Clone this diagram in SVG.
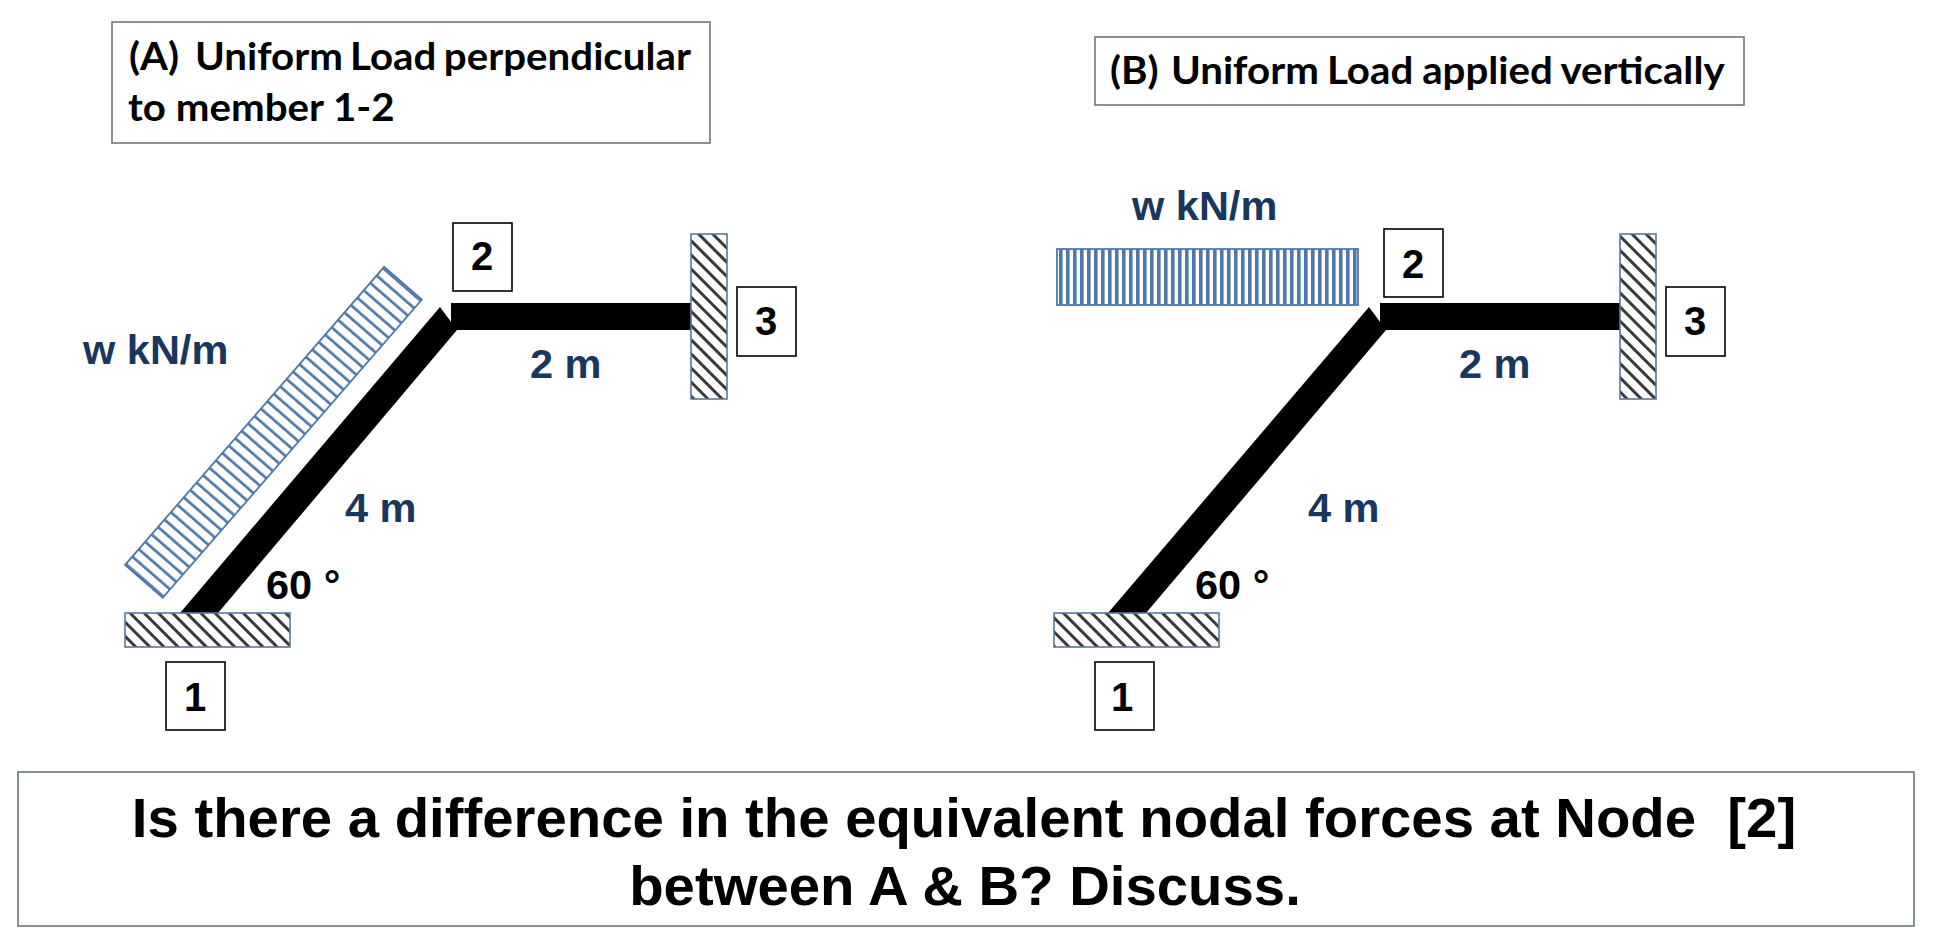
<svg xmlns="http://www.w3.org/2000/svg" width="1934" height="946" viewBox="0 0 1934 946">
<style>
.box{fill:#fff;stroke:#000;stroke-width:1.6}
.cap{fill:#fff;stroke:#6b7580;stroke-width:1.6}
.num{font:bold 40px "Liberation Sans",Arial,sans-serif;fill:#000;text-anchor:middle}
.lbl{font:bold 41.5px "Liberation Sans",Arial,sans-serif;fill:#17375e}
.ang{font:bold 41.5px "Liberation Sans",Arial,sans-serif;fill:#000}
.cal{font:bold 38px Lato,"Liberation Sans",sans-serif;fill:#000}
.big{font:bold 56.3px "Liberation Sans",Arial,sans-serif;fill:#000;text-anchor:middle;white-space:pre}
.wall{fill:url(#wallHatch);stroke:#5b7a99;stroke-width:1.6}
.load{stroke:#4f79a8;stroke-width:1.8}
.member{fill:#000}
</style>
<defs>
<pattern id="wallHatch" width="10" height="10" patternUnits="userSpaceOnUse" patternTransform="rotate(45)">
<rect width="10" height="10" fill="#fff"/>
<rect width="10" height="3" fill="#3a3a3a"/>
</pattern>
<pattern id="loadV" width="7" height="10" patternUnits="userSpaceOnUse" patternTransform="translate(1059 0)">
<rect width="7" height="10" fill="#fff"/>
<rect width="3.6" height="10" fill="#4f79a8"/>
</pattern>
<pattern id="loadA" width="9.8" height="10" patternUnits="userSpaceOnUse">
<rect width="9.8" height="10" fill="#fff"/>
<rect width="2.7" height="10" fill="#4f79a8"/>
</pattern>
</defs>
<rect width="1934" height="946" fill="#fff"/>

<g id="title-a">
<rect class="cap" x="112" y="22" width="598" height="121"/>
<text class="cal" transform="translate(129 70) scale(1.06 1)"><tspan x="0">(A)</tspan><tspan x="62.3">Uniform</tspan><tspan x="208.5">Load</tspan><tspan x="297">perpendicular</tspan></text>
<text class="cal" transform="translate(128 121) scale(1.06 1)">to member 1-2</text>
</g>
<g id="title-b">
<rect class="cap" x="1095" y="37" width="649" height="68"/>
<text class="cal" transform="translate(1110 84) scale(1.06 1)"><tspan x="0">(B)</tspan><tspan x="57.5">Uniform</tspan><tspan x="204.7">Load</tspan><tspan x="294.5">applied</tspan><tspan x="425">vertically</tspan></text>
</g>

<g id="connectors">
<path id="member-a-12" class="member" d="M180 613L440 307L457 330L218 613Z"/>
<rect id="member-a-23" class="member" x="451" y="303" width="241" height="27"/>
<path id="member-b-12" class="member" d="M1108 613L1369 307L1386 330L1146 613Z"/>
<rect id="member-b-23" class="member" x="1380" y="303" width="241" height="27"/>
</g>

<g id="load-a">
<rect class="load" fill="url(#loadA)" transform="translate(125 565) rotate(-49)" x="0" y="0" width="395" height="50"/>
</g>
<g id="load-b">
<rect class="load" fill="url(#loadV)" x="1057" y="249" width="301" height="56"/>
</g>
<g id="wall-a-1"><rect class="wall" x="125" y="613" width="165" height="34"/></g>
<g id="wall-a-3"><rect class="wall" x="691" y="234" width="36" height="165"/></g>
<g id="wall-b-1"><rect class="wall" x="1054" y="613" width="165" height="34"/></g>
<g id="wall-b-3"><rect class="wall" x="1620" y="234" width="36" height="165"/></g>

<g id="node-a-1"><rect class="box" x="166" y="662" width="59" height="68"/><text class="num" x="195" y="711">1</text></g>
<g id="node-a-2"><rect class="box" x="453" y="223" width="59" height="68"/><text class="num" x="482" y="270">2</text></g>
<g id="node-a-3"><rect class="box" x="737" y="287" width="59" height="69"/><text class="num" x="766" y="335">3</text></g>
<g id="node-b-1"><rect class="box" x="1095" y="662" width="59" height="68"/><text class="num" x="1122" y="711">1</text></g>
<g id="node-b-2"><rect class="box" x="1384" y="229" width="59" height="68"/><text class="num" x="1413" y="278">2</text></g>
<g id="node-b-3"><rect class="box" x="1666" y="287" width="59" height="69"/><text class="num" x="1695" y="335">3</text></g>

<text class="lbl" x="83" y="364">w kN/m</text>
<text class="lbl" x="345" y="522">4 m</text>
<text class="lbl" x="530" y="378">2 m</text>
<text class="ang" x="266" y="599">60 °</text>
<text class="lbl" x="1132" y="220">w kN/m</text>
<text class="lbl" x="1308" y="522">4 m</text>
<text class="lbl" x="1459" y="378">2 m</text>
<text class="ang" x="1195" y="599">60 °</text>

<g id="question">
<rect class="cap" x="18" y="772" width="1896" height="154"/>
<text class="big" x="964" y="837">Is there a difference in the equivalent nodal forces at Node  [2]</text>
<text class="big" x="965" y="905">between A &amp; B? Discuss.</text>
</g>
</svg>
